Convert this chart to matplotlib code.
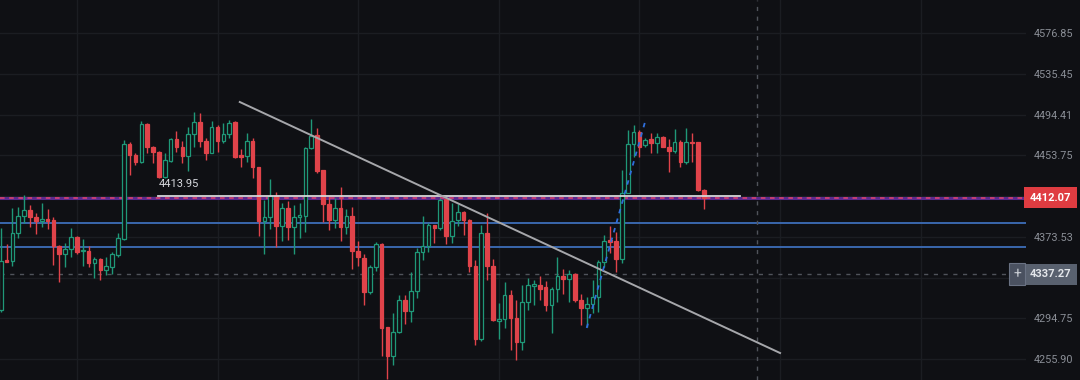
import matplotlib
matplotlib.use('Agg')
import matplotlib.pyplot as plt
import matplotlib.transforms as mtrans
from matplotlib.ticker import FixedLocator, NullLocator, NullFormatter, FuncFormatter

# ---------------- data ----------------
opens = [4302.8, 4351.0, 4350.0, 4377.1, 4394.0, 4399.9, 4393.3, 4389.3, 4391.3, 4390.0,
         4364.9, 4356.6, 4361.3, 4373.8, 4359.4, 4360.0, 4347.7, 4352.0, 4341.1, 4344.4,
         4355.9, 4371.2, 4465.2, 4454.2, 4447.6, 4485.2, 4462.5, 4457.6, 4432.1, 4448.5,
         4469.8, 4462.5, 4453.2, 4474.8, 4487.5, 4468.4, 4456.4, 4482.0, 4468.4, 4474.8,
         4487.2, 4453.9, 4453.2, 4468.2, 4441.8, 4389.3, 4392.7, 4413.7, 4384.1, 4401.5,
         4383.4, 4392.7, 4394.0, 4461.0, 4474.1, 4439.4, 4405.8, 4390.0, 4401.5, 4383.4,
         4394.0, 4360.0, 4352.7, 4320.1, 4344.4, 4366.2, 4286.2, 4258.7, 4281.9, 4312.2,
         4302.2, 4321.1, 4359.0, 4364.6, 4385.1, 4381.8, 4410.4, 4374.4, 4390.0, 4397.6,
         4390.0, 4345.4, 4274.6, 4377.1, 4345.4, 4292.3, 4293.7, 4317.1, 4294.7, 4271.8,
         4310.5, 4325.7, 4326.7, 4324.4, 4307.3, 4323.4, 4335.9, 4332.3, 4337.5, 4312.2,
         4305.0, 4308.3, 4315.5, 4349.4, 4370.5, 4369.5, 4351.7, 4416.9, 4464.9, 4476.7,
         4464.2, 4469.8, 4466.5, 4472.4, 4462.5, 4458.6, 4467.5, 4447.6, 4467.5, 4466.9,
         4419.6]
highs = [4382.1, 4366.6, 4401.5, 4402.5, 4414.6, 4404.8, 4396.6, 4406.5, 4400.9, 4392.7,
         4365.6, 4367.8, 4381.8, 4374.3, 4371.2, 4364.6, 4354.2, 4352.5, 4354.2, 4359.2,
         4377.1, 4469.1, 4467.5, 4456.4, 4488.5, 4486.5, 4463.2, 4458.6, 4455.8, 4470.8,
         4478.3, 4468.4, 4482.6, 4497.3, 4496.4, 4470.8, 4488.5, 4484.2, 4485.9, 4489.2,
         4488.2, 4460.0, 4475.8, 4470.8, 4442.5, 4409.7, 4430.1, 4417.9, 4407.0, 4409.0,
         4404.8, 4406.5, 4462.5, 4489.8, 4481.0, 4439.7, 4413.7, 4411.4, 4422.2, 4400.6,
         4403.1, 4369.8, 4356.9, 4346.1, 4368.2, 4367.2, 4286.8, 4299.6, 4317.1, 4317.1,
         4338.9, 4362.4, 4394.3, 4387.4, 4385.6, 4411.4, 4411.4, 4407.0, 4405.8, 4399.2,
         4390.6, 4351.0, 4385.1, 4396.6, 4351.7, 4309.0, 4329.9, 4321.7, 4312.2, 4326.7,
         4333.9, 4331.6, 4335.9, 4330.9, 4325.0, 4354.2, 4341.8, 4341.1, 4338.2, 4318.5,
         4314.9, 4331.6, 4351.0, 4375.4, 4384.1, 4378.5, 4439.4, 4479.3, 4484.2, 4479.0,
         4470.8, 4476.3, 4475.8, 4473.1, 4469.8, 4480.0, 4469.1, 4481.0, 4476.3, 4467.5,
         4420.3]
lows = [4300.9, 4349.0, 4345.1, 4372.2, 4386.8, 4383.4, 4376.4, 4382.8, 4381.1, 4346.1,
        4329.3, 4344.4, 4354.2, 4356.9, 4345.1, 4343.8, 4333.3, 4331.6, 4336.5, 4337.9,
        4354.2, 4370.3, 4434.4, 4444.3, 4446.7, 4455.8, 4446.6, 4431.1, 4431.1, 4447.6,
        4457.6, 4446.6, 4438.4, 4462.5, 4462.5, 4449.2, 4455.8, 4457.6, 4465.9, 4470.8,
        4451.7, 4441.8, 4447.6, 4431.1, 4374.4, 4356.9, 4380.8, 4363.9, 4369.5, 4370.5,
        4356.9, 4372.2, 4378.5, 4460.0, 4436.0, 4388.3, 4380.1, 4381.8, 4369.8, 4376.4,
        4341.8, 4345.1, 4307.3, 4318.5, 4340.5, 4258.7, 4236.5, 4249.8, 4280.9, 4289.7,
        4291.3, 4313.9, 4351.0, 4359.2, 4367.8, 4380.1, 4366.6, 4367.3, 4384.1, 4375.4,
        4339.4, 4269.1, 4272.9, 4331.6, 4292.1, 4274.6, 4285.2, 4264.6, 4254.7, 4264.6,
        4302.8, 4307.3, 4312.2, 4302.1, 4280.9, 4310.5, 4317.8, 4310.5, 4310.5, 4288.4,
        4286.8, 4299.6, 4301.2, 4344.4, 4357.4, 4339.4, 4348.3, 4416.3, 4452.5, 4452.5,
        4462.5, 4455.8, 4456.4, 4461.9, 4437.7, 4456.4, 4442.6, 4445.3, 4447.6, 4418.9,
        4400.9]
closes = [4350.0, 4349.0, 4377.1, 4394.0, 4399.9, 4393.3, 4389.0, 4390.7, 4389.3, 4364.9,
          4356.6, 4361.3, 4373.8, 4359.0, 4360.6, 4347.7, 4352.0, 4341.1, 4345.1, 4356.6,
          4372.2, 4465.2, 4454.2, 4447.6, 4485.2, 4462.5, 4457.6, 4432.1, 4449.2, 4469.8,
          4461.9, 4453.2, 4474.8, 4487.5, 4468.4, 4456.4, 4482.0, 4468.4, 4474.8, 4486.5,
          4452.5, 4452.5, 4468.2, 4441.8, 4389.3, 4393.3, 4413.7, 4384.1, 4401.5, 4383.4,
          4392.7, 4394.9, 4461.0, 4473.1, 4438.3, 4405.8, 4390.0, 4401.5, 4383.4, 4394.0,
          4360.0, 4353.6, 4320.1, 4344.4, 4366.2, 4285.8, 4258.7, 4281.9, 4312.2, 4302.2,
          4321.1, 4359.0, 4364.6, 4385.1, 4381.8, 4409.7, 4374.4, 4389.3, 4397.6, 4390.0,
          4345.1, 4274.6, 4377.1, 4345.1, 4293.0, 4293.7, 4317.1, 4294.7, 4271.8, 4310.5,
          4326.7, 4327.6, 4323.4, 4307.3, 4323.4, 4335.9, 4332.3, 4337.5, 4312.2, 4305.0,
          4308.0, 4315.5, 4349.4, 4369.5, 4368.9, 4351.7, 4416.9, 4464.9, 4476.7, 4462.5,
          4469.1, 4466.5, 4472.4, 4462.5, 4458.6, 4467.5, 4447.6, 4466.9, 4466.2, 4419.6,
          4412.07]

tick_values = [4576.85, 4535.45, 4494.41, 4453.75, 4373.53, 4294.75, 4255.90]
grid_levels = [4576.85, 4535.45, 4494.41, 4453.75, 4413.4, 4373.53, 4334.0, 4294.75, 4255.90]
grid_bars = [13, 37, 61, 85, 109, 133, 157]

last_price = 4412.07
cross_price = 4337.27
cross_bar = 129
level_white = 4413.95
level_white_span = [26.8, 126.2]
blue_levels = [4386.8, 4363.3]
trend_x = [40.8, 133.0]
trend_y = [4507.2, 4261.6]
dash_x = [100, 110]
dash_y = [4285.5, 4488.1]

# ---------------- style ----------------
BG = '#0f1014'
GRID = '#1b1d22'
GREEN = '#1f9878'
RED = '#e0434a'
AXTXT = '#8a8e96'

plt.rcParams['font.family'] = ['Roboto', 'DejaVu Sans']

fig = plt.figure(figsize=(10.8, 3.8), dpi=100, facecolor=BG)
ax = fig.add_axes([0, 0, 1026 / 1080, 1])
ax.set_facecolor(BG)
ax.set_yscale('log')
ax.set_ylim(4236.0, 4611.0)
ax.set_xlim(-0.12, 174.97)

for s in ax.spines.values():
    s.set_visible(False)

# grid
for g in grid_levels:
    ax.axhline(g, color=GRID, lw=1, zorder=0)
for b in grid_bars:
    ax.axvline(b, color=GRID, lw=1, zorder=0)

# ticks
ax.yaxis.tick_right()
ax.yaxis.set_major_locator(FixedLocator(tick_values))
ax.yaxis.set_minor_locator(NullLocator())
ax.yaxis.set_minor_formatter(NullFormatter())
ax.yaxis.set_major_formatter(FuncFormatter(lambda v, p: f'{v:.2f}'))
ax.tick_params(axis='y', length=0, pad=5.5, labelsize=7.8, labelcolor=AXTXT)
ax.set_xticks([])

# horizontal levels
for lv in blue_levels:
    ax.axhline(lv, color='#3a67ad', lw=1.4, zorder=1)
ax.axhline(last_price, color='#5a2a8c', lw=2.2, zorder=1)
ax.axhline(last_price, color='#e2436f', lw=1.1, ls=(0, (3, 3)), zorder=1.1)
ax.axhline(cross_price, color='#50535b', lw=1, ls=(0, (3, 4)), xmax=1008 / 1026, zorder=1)
ax.axvline(cross_bar, color='#50535b', lw=1, ls=(0, (3, 4)), zorder=1)

# candles
for i, (o, h, l, c) in enumerate(zip(opens, highs, lows, closes)):
    up = c >= o
    col = GREEN if up else RED
    ax.vlines(i, l, h, color=col, lw=1, zorder=2)
    bot, top = min(o, c), max(o, c)
    if top - bot < 0.8:
        top = bot + 0.8
    ax.bar(i, top - bot, bottom=bot, width=0.62,
           facecolor=BG if up else RED, edgecolor=col, lw=0.9, zorder=3)

# drawings
ax.plot(level_white_span, [level_white, level_white], color='#d6d6d8', lw=1.3, zorder=4)
ax.annotate(f'{level_white:.2f}', xy=(level_white_span[0], level_white), xytext=(1, 5),
            textcoords='offset points', ha='left', va='bottom', fontsize=8,
            color='#d8dadf', zorder=5)
ax.plot(trend_x, trend_y, color='#a6a7ab', lw=1.4, zorder=4)
ax.plot(dash_x, dash_y, color='#2f6fdc', lw=1.3, ls=(0, (2.5, 3)), zorder=4)

# price labels on the axis
tr = mtrans.blended_transform_factory(ax.transAxes, ax.transData)
ax.text(1.0035, last_price, f'{last_price:.2f}', transform=tr, ha='left', va='center',
        fontsize=8, color='white', fontweight='bold', clip_on=False, zorder=10,
        bbox=dict(boxstyle='square,pad=0.5', fc='#df3c41', ec='none'))
ax.text(1.0035, cross_price, f'{cross_price:.2f}', transform=tr, ha='left', va='center',
        fontsize=8, color='#e3e6ea', fontweight='bold', clip_on=False, zorder=10,
        bbox=dict(boxstyle='square,pad=0.5', fc='#59616f', ec='none'))
ax.text(0.9915, cross_price, '+', transform=tr, ha='center', va='center',
        fontsize=10, color='#c9cdd4', clip_on=False, zorder=10,
        bbox=dict(boxstyle='square,pad=0.28', fc='#4a5160', ec='#6a7283', lw=0.8))

fig.savefig('out.png', dpi=100, facecolor=BG)
